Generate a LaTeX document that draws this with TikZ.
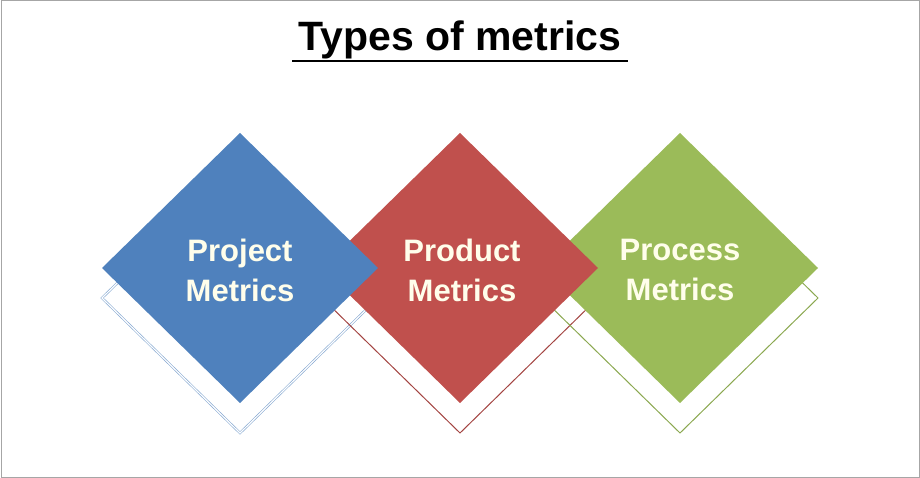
\documentclass[tikz,border=0pt]{standalone}
\usepackage{fontspec}
\setmainfont{Liberation Sans}
\begin{document}
\begin{tikzpicture}[x=1pt,y=-1pt,
  lbl/.style={text=white!92!yellow,font=\bfseries\fontsize{31}{40}\selectfont,align=center}]
\useasboundingbox (0,0) rectangle (920,478);
\draw[gray!70,line width=1pt] (1,1) rectangle (919,477);
\node[font=\bfseries\fontsize{41}{46}\selectfont] (title) at (460,40) {Types of metrics};
\draw[line width=2pt] (292,61) -- (628,61);
\definecolor{cb}{HTML}{4F81BD}
\definecolor{cr}{HTML}{C0504D}
\definecolor{cg}{HTML}{9BBB59}
% outlines
\draw[cb!70,double=white,double distance=1.2pt,line width=0.6pt] (102,298) -- (240,163) -- (378,298) -- (240,433) -- cycle;
\draw[cr!85!black,line width=1pt] (322,298) -- (460,163) -- (598,298) -- (460,433) -- cycle;
\draw[cg!90!black,line width=1pt] (542,298) -- (680,163) -- (818,298) -- (680,433) -- cycle;
% filled
\fill[cg] (542,268) -- (680,133) -- (818,268) -- (680,403) -- cycle;
\fill[cr] (322,268) -- (460,133) -- (598,268) -- (460,403) -- cycle;
\fill[cb] (102,268) -- (240,133) -- (378,268) -- (240,403) -- cycle;
\node[lbl] (p1) at (240,270) {Project\\Metrics};
\node[lbl] (p2) at (462,270) {Product\\Metrics};
\node[lbl] (p3) at (680,270) {Process\\Metrics};
\end{tikzpicture}
\end{document}
